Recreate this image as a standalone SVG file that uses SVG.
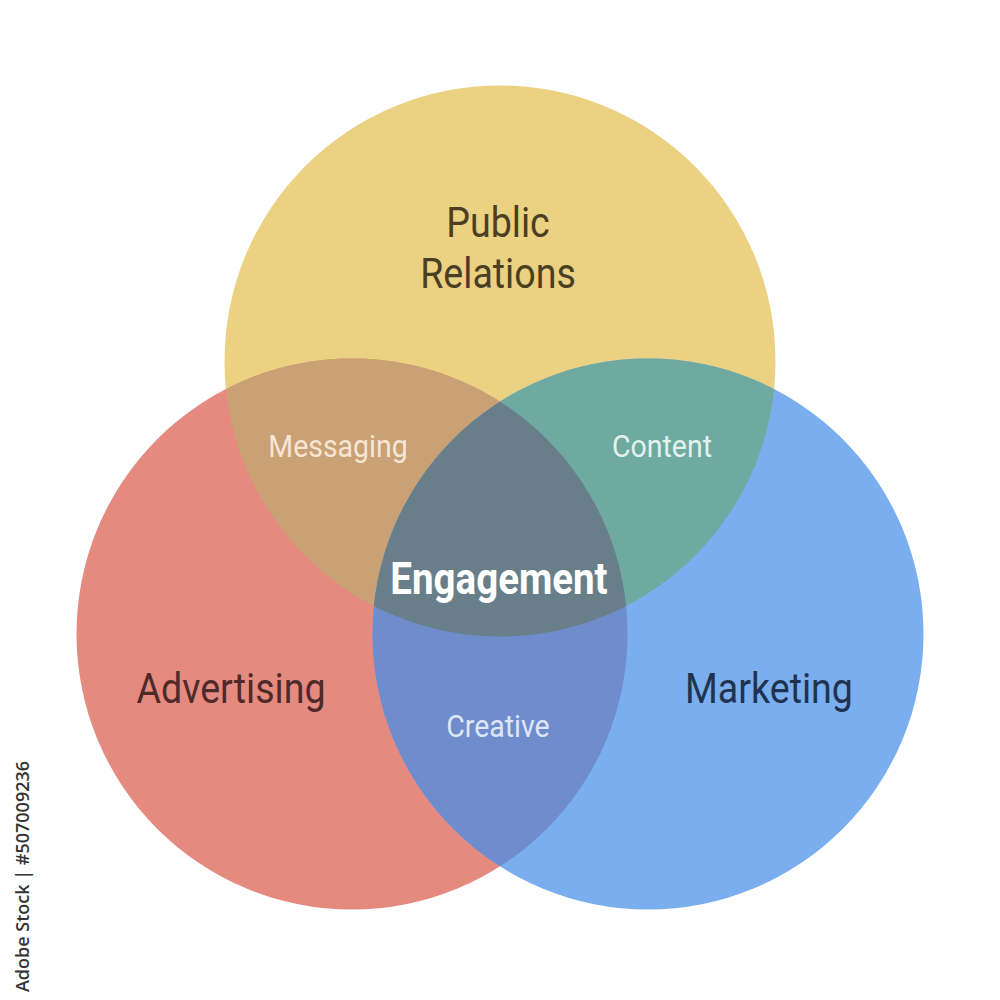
<svg xmlns="http://www.w3.org/2000/svg" width="1000" height="1000" viewBox="0 0 1000 1000">
<style>
text{font-family:Roboto,"Liberation Sans",sans-serif;text-anchor:middle}
.main{font-size:42px}
.sub{font-size:32px}
</style>
<defs>
<circle id="cy" cx="500" cy="361" r="275.5"/>
<circle id="cr" cx="352" cy="634" r="275.5"/>
<circle id="cb" cx="648" cy="634" r="275.5"/>
<clipPath id="clipY"><use href="#cy"/></clipPath>
<clipPath id="clipR"><use href="#cr"/></clipPath>
<clipPath id="clipB"><use href="#cb"/></clipPath>
</defs>
<rect width="1000" height="1000" fill="#ffffff"/>
<g id="venn-circles">
<use id="circle-yellow" href="#cy" fill="#ebd182"/>
<use id="circle-red" href="#cr" fill="#e58a7f"/>
<use id="circle-blue" href="#cb" fill="#7aaeee"/>
<g clip-path="url(#clipY)"><use id="overlap-messaging" href="#cr" fill="#c9a175"/><use id="overlap-content" href="#cb" fill="#6eaaa0"/></g>
<g clip-path="url(#clipR)"><use id="overlap-creative" href="#cb" fill="#6f8ccc"/></g>
<g clip-path="url(#clipR)"><g clip-path="url(#clipB)"><use id="overlap-center" href="#cy" fill="#687f8a"/></g></g>
</g>
<g id="node-public-relations" fill="#4a3f22" class="main">
<text transform="translate(498 237) scale(.895 1)">Public</text>
<text transform="translate(498 288) scale(.895 1)">Relations</text>
</g>
<g id="node-advertising" fill="#4f2a2a" class="main"><text transform="translate(231 703) scale(.895 1)">Advertising</text></g>
<g id="node-marketing" fill="#1f3350" class="main"><text transform="translate(769 703) scale(.895 1)">Marketing</text></g>
<g id="node-messaging" fill="#f6e6d6" class="sub"><text transform="translate(338 457) scale(.89 1)">Messaging</text></g>
<g id="node-content" fill="#e4f2ee" class="sub"><text transform="translate(662 457) scale(.89 1)">Content</text></g>
<g id="node-creative" fill="#dfe6f6" class="sub"><text transform="translate(498 737) scale(.89 1)">Creative</text></g>
<g id="node-engagement" fill="#ffffff"><text transform="translate(499 594) scale(.875 1)" font-size="44" font-weight="700">Engagement</text></g>
<g id="connectors"></g>
<text transform="translate(29 876.5) rotate(-90)" font-size="18" font-weight="600" fill="#333" style="font-family:'Open Sans',sans-serif">Adobe Stock | #507009236</text>
</svg>
